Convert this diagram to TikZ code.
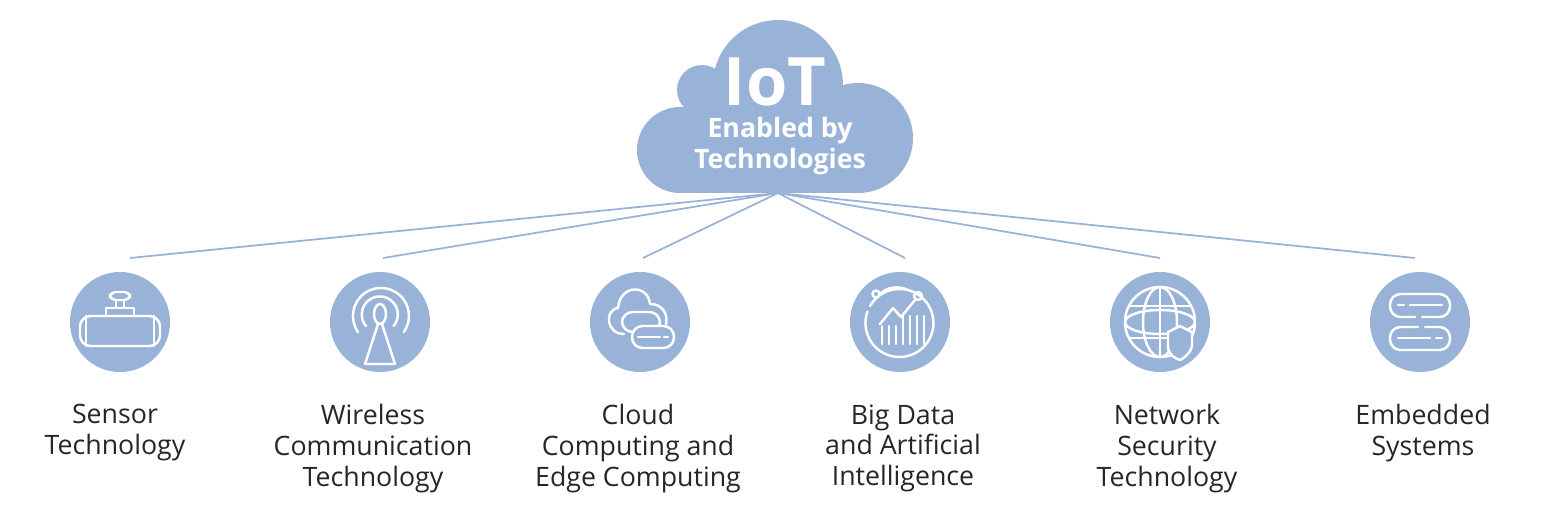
\documentclass[tikz,border=0pt]{standalone}
\usepackage{fontspec}
\setmainfont{Open Sans}
\usetikzlibrary{positioning}
\definecolor{iotblue}{HTML}{99B3D8}
\tikzset{
  topic/.style={circle, fill=iotblue, minimum size=1cm, inner sep=0pt},
  caption/.style={align=center, font=\fontsize{7.6}{8.8}\selectfont, text=black!85},
  link/.style={draw=iotblue, line width=0.5pt},
  icon/.style={draw=white, line width=0.7pt, line cap=round, line join=round}
}
\begin{document}
\begin{tikzpicture}[x=0.01cm, y=0.01cm]
  \useasboundingbox (0,0) rectangle (1560,520);
  % the cloud on top
  \fill[iotblue] (680,370) circle (43);
  \fill[iotblue] (858,382) circle (55);
  \fill[iotblue] (778,435) circle (65);
  \fill[iotblue] (702,430) circle (25);
  \fill[iotblue] (680,327) rectangle (860,410);
  \node[text=white, font=\fontsize{19}{19}\selectfont\bfseries] (iot) at (775,438) {IoT};
  \node[text=white, align=center, font=\fontsize{7.6}{9}\selectfont\bfseries]
    (enabled) at (780,374) {Enabled by\\Technologies};
  \coordinate (hub) at (778,327);

  % the six technologies
  \node[topic] (sensor)   at (120,198) {};
  \node[topic] (wireless) at (380,198) {};
  \node[topic] (cloud)    at (640,198) {};
  \node[topic] (bigdata)  at (900,198) {};
  \node[topic] (security) at (1160,198) {};
  \node[topic] (embedded) at (1420,198) {};

  \foreach \x in {130, 383, 643, 905, 1160, 1415}
    \draw[link] (hub) -- (\x,262);

  \node[caption, anchor=north] (capsensor)   at (115,128) {Sensor\\Technology};
  \node[caption, anchor=north] (capwireless) at (373,128) {Wireless\\Communication\\Technology};
  \node[caption, anchor=north] (capcloud)    at (638,128) {Cloud\\Computing and\\Edge Computing};
  \node[caption, anchor=north] (capbigdata)  at (903,128) {Big Data\\and Artificial\\Intelligence};
  \node[caption, anchor=north] (capsecurity) at (1167,128) {Network\\Security\\Technology};
  \node[caption, anchor=north] (capembedded) at (1423,128) {Embedded\\Systems};

  % icons
  \begin{scope}[shift={(sensor.center)}, icon]
    \draw[rounded corners=1.5] (-10,22) rectangle (10,30);
    \draw (-4,22) -- (-4,14) (4,22) -- (4,14);
    \draw (-14,6) rectangle (14,14);
    \draw[rounded corners=3] (-40,6) rectangle (40,-24);
    \draw (-34,6) -- (-34,-24) (34,6) -- (34,-24);
  \end{scope}
  \begin{scope}[shift={(wireless.center)}, icon]
    \draw (0,8) ellipse (6 and 10);
    \draw (-2,-2) -- (-15,-42) -- (15,-42) -- (2,-2);
    \draw (-14,-4) arc (220:-40:18);
    \draw (-22,-10) arc (215:-35:28);
  \end{scope}
  \begin{scope}[shift={(cloud.center)}, icon]
    \draw (-16,-12) .. controls (-34,-12) and (-36,12) .. (-22,14)
      .. controls (-20,38) and (8,38) .. (10,18) .. controls (24,18) and (28,6) .. (26,-2);
    \draw[rounded corners=3] (-18,-10) rectangle (20,10);
    \draw[fill=iotblue, rounded corners=3] (-8,-26) rectangle (34,-4);
    \draw (-2,-15) -- (20,-15) (24,-15) -- (28,-15);
  \end{scope}
  \begin{scope}[shift={(bigdata.center)}, icon]
    \draw (-30,16) arc (150:-200:34);
    \draw (-20,-2) -- (-7,14) -- (1,5) -- (15,22);
    \draw (-24,28) circle (3.5) (18,26) circle (4);
    \draw (-20,28) .. controls (-12,36) and (0,36) .. (8,32);
    \foreach \x in {-18,-11,-4,3,10,17,24}
      \draw (\x,-22) -- (\x,{(\x<0)?-4:6});
  \end{scope}
  \begin{scope}[shift={(security.center)}, icon]
    \draw (0,0) circle (35);
    \draw (0,0) ellipse (17 and 35);
    \draw (0,0) ellipse (35 and 12);
    \draw (0,35) -- (0,-35);
    \draw (-31,16) -- (31,16) (-31,-16) -- (20,-16);
    \draw[fill=iotblue] (8,-10) -- (20,-4) -- (32,-10) -- (32,-24)
      .. controls (30,-32) and (24,-36) .. (20,-38) .. controls (14,-36) and (8,-32) .. (8,-24) -- cycle;
  \end{scope}
  \begin{scope}[shift={(embedded.center)}, icon]
    \draw[rounded corners=3] (-5,5) -- (-30,5) -- (-30,28) -- (30,28) -- (30,5) -- (2,5);
    \draw[rounded corners=3] (5,-5) -- (30,-5) -- (30,-28) -- (-30,-28) -- (-30,-5) -- (-2,-5);
    \draw (-22,17) -- (-16,17) (-10,17) -- (22,17);
    \draw (-22,-16) -- (10,-16) (16,-16) -- (22,-16);
  \end{scope}
\end{tikzpicture}
\end{document}
